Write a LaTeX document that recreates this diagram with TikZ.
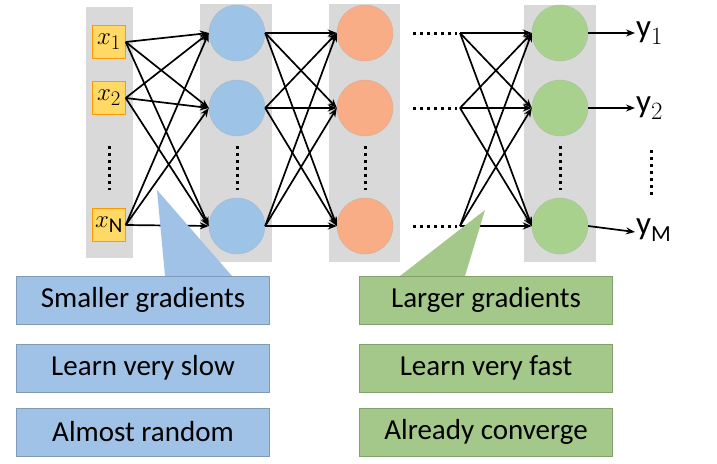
\documentclass[tikz,border=0pt]{standalone}
\usepackage{fontspec}
\setmainfont{Carlito}
\usepackage{tikz}
\usetikzlibrary{arrows.meta,positioning}

\definecolor{layergray}{RGB}{217,217,217}
\definecolor{inbox}{RGB}{255,217,102}
\definecolor{blueN}{RGB}{157,195,230}
\definecolor{orangeN}{RGB}{248,173,134}
\definecolor{greenN}{RGB}{169,209,142}
\definecolor{blueBox}{RGB}{160,194,230}
\definecolor{greenBox}{RGB}{164,200,138}

\tikzset{
  layer/.style={fill=layergray, draw=none},
  xin/.style={rectangle, draw=orange!80!yellow, fill=inbox, minimum size=33pt, inner sep=0pt, font=\fontsize{30}{32}\selectfont},
  neuron/.style={circle, minimum size=56pt, inner sep=0pt},
  conn/.style={-{Stealth[length=9pt,width=7pt]}, line width=1.7pt},
  vdots/.style={line width=3pt, dash pattern=on 2.5pt off 4.5pt, line cap=butt},
  note/.style={rectangle, minimum width=253pt, minimum height=48pt, font=\fontsize{29}{31}\selectfont},
  ylab/.style={font=\fontsize{33}{35}\selectfont, inner sep=1pt, anchor=west},
}

\begin{document}
\begin{tikzpicture}[x=1pt,y=-1pt]
\useasboundingbox (0,0) rectangle (717,463);

% grey layer backgrounds
\fill[layer] (86,7) rectangle (133,258);
\fill[layer] (200,4) rectangle (272,262);
\fill[layer] (329,4) rectangle (400,262);
\fill[layer] (524,5) rectangle (596,262);

% input layer
\node[xin] (x1) at (109,42) {$x_1$};
\node[xin] (x2) at (109,98) {$x_2$};
\node[xin] (xN) at (109,225) {$x_{\mathrm{N}}$};
\draw[vdots] (109,146) -- (109,190);

% hidden layers
\foreach \n/\y in {1/33,2/108,3/226} {
  \node[neuron, fill=blueN, draw=blueN!70!black!60] (a\n) at (237,\y) {};
  \node[neuron, fill=orangeN, draw=orangeN!70!black!60] (b\n) at (365,\y) {};
  \node[neuron, fill=greenN, draw=greenN!70!black!60] (c\n) at (560,\y) {};
  \coordinate (d\n) at (460,\y);
}
\draw[vdots] (237,146) -- (237,190);
\draw[vdots] (365,146) -- (365,190);
\draw[vdots] (560,146) -- (560,190);

% dots between layers
\foreach \n in {1,2,3}
  \draw[line width=3pt, dash pattern=on 2.5pt off 4.5pt] ([xshift=20pt]b\n.center) ++(28,0) -- ++(44,0);

% connections
\foreach \i in {x1,x2,xN}
  \foreach \j in {1,2,3}
    \draw[conn] (\i.east) -- (a\j.west);
\foreach \i in {1,2,3}
  \foreach \j in {1,2,3} {
    \draw[conn] (a\i.east) -- (b\j.west);
    \draw[conn] (d\i) -- (c\j.west);
  }

% outputs
\node[ylab] (y1) at (635,33) {y$_1$};
\node[ylab] (y2) at (635,108) {y$_2$};
\node[ylab] (yM) at (635,230) {y$_{\mathrm{M}}$};
\draw[conn] (c1.east) -- (y1.west);
\draw[conn] (c2.east) -- (y2.west);
\draw[conn] (c3.east) -- ([yshift=-2pt]yM.west);
\draw[vdots] (651,150) -- (651,196);

% callouts
\fill[blueBox] (165,276) -- (157,190) -- (232,276) -- cycle;
\fill[greenBox] (400,276) -- (485,210) -- (465,276) -- cycle;
\node[note, fill=blueBox, draw=blueBox!80!black] (s1) at (143,300) {Smaller gradients};
\node[note, fill=blueBox, draw=blueBox!80!black] (s2) at (143,368) {Learn very slow};
\node[note, fill=blueBox, draw=blueBox!80!black] (s3) at (143,432) {Almost random};
\node[note, fill=greenBox, draw=greenBox!80!black] (l1) at (486,300) {Larger gradients};
\node[note, fill=greenBox, draw=greenBox!80!black] (l2) at (486,368) {Learn very fast};
\node[note, fill=greenBox, draw=greenBox!80!black] (l3) at (486,432) {Already converge};
\end{tikzpicture}
\end{document}
